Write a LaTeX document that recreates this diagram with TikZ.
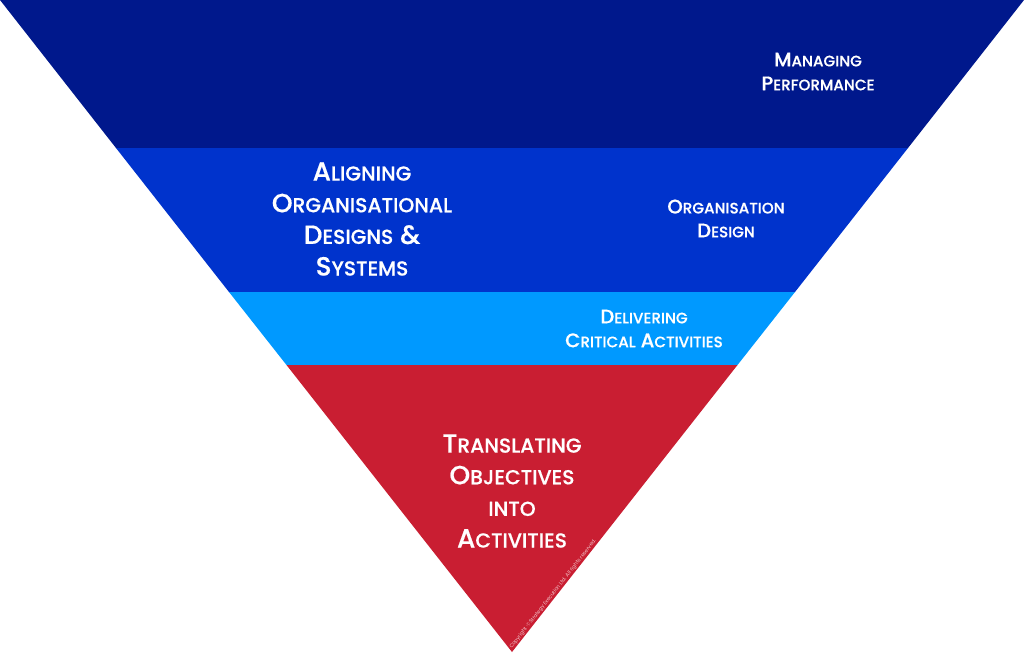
\documentclass[tikz,border=0pt]{standalone}
\usepackage{fontspec}
\setmainfont{Poppins}[BoldFont=Poppins Medium, BoldFeatures={FakeBold=0.5}]
\definecolor{perfblue}{RGB}{0,24,140}
\definecolor{orgblue}{RGB}{0,51,204}
\definecolor{critblue}{RGB}{0,153,255}
\definecolor{objred}{RGB}{201,30,50}
\newcommand{\capsmall}[2]{#1\scalebox{0.77}{#2}}
\tikzset{
    bandlabel/.style={white, align=center, font=\fontsize{11.2}{13.6}\selectfont\bfseries},
    biglabel/.style={white, align=center, font=\fontsize{15}{18}\selectfont\bfseries},
}
\begin{document}
\begin{tikzpicture}[x=0.02cm, y=-0.02cm]
    \useasboundingbox (0,0) rectangle (1024,653);

    % Define coordinates
    \coordinate (TL) at (0,0);
    \coordinate (TR) at (1024,0);
    \coordinate (A) at (512,652);
    \coordinate (L1) at (116,148);
    \coordinate (R1) at (908,148);
    \coordinate (L2) at (229,292);
    \coordinate (R2) at (795,292);
    \coordinate (L3) at (286.5,365);
    \coordinate (R3) at (737.5,365);

    % Draw bands
    \fill[perfblue] (TL) -- (TR) -- (R1) -- (L1) -- cycle;
    \fill[orgblue] (L1) -- (R1) -- (R2) -- (L2) -- cycle;
    \fill[critblue] (L2) -- (R2) -- (R3) -- (L3) -- cycle;
    \fill[objred] (L3) -- (R3) -- (A) -- cycle;

    % Labels for bands
    \node[bandlabel] (managing) at (818,71.5) {\capsmall{M}{ANAGING}\\\capsmall{P}{ERFORMANCE}};
    \node[bandlabel] (organisation) at (726,218.5) {\capsmall{O}{RGANISATION}\\\capsmall{D}{ESIGN}};
    \node[bandlabel] (delivering) at (644,328.5) {\capsmall{D}{ELIVERING}\\\capsmall{C}{RITICAL} \capsmall{A}{CTIVITIES}};

    % Larger labels
    \node[biglabel] (aligning) at (362,219) {\capsmall{A}{LIGNING}\\\capsmall{O}{RGANISATIONAL}\\\capsmall{D}{ESIGNS} \&\\\capsmall{S}{YSTEMS}};
    \node[biglabel] (translating) at (512,491) {\capsmall{T}{RANSLATING}\\\capsmall{O}{BJECTIVES}\\\scalebox{0.77}{INTO}\\\capsmall{A}{CTIVITIES}};

    % Copyright along the edge
    \node[white!75!objred, rotate=52, font=\fontsize{2.9}{3}\selectfont] (copyright) at (553,594) {Copyright © Strategy Execution Ltd.  All rights reserved.};
\end{tikzpicture}
\end{document}
